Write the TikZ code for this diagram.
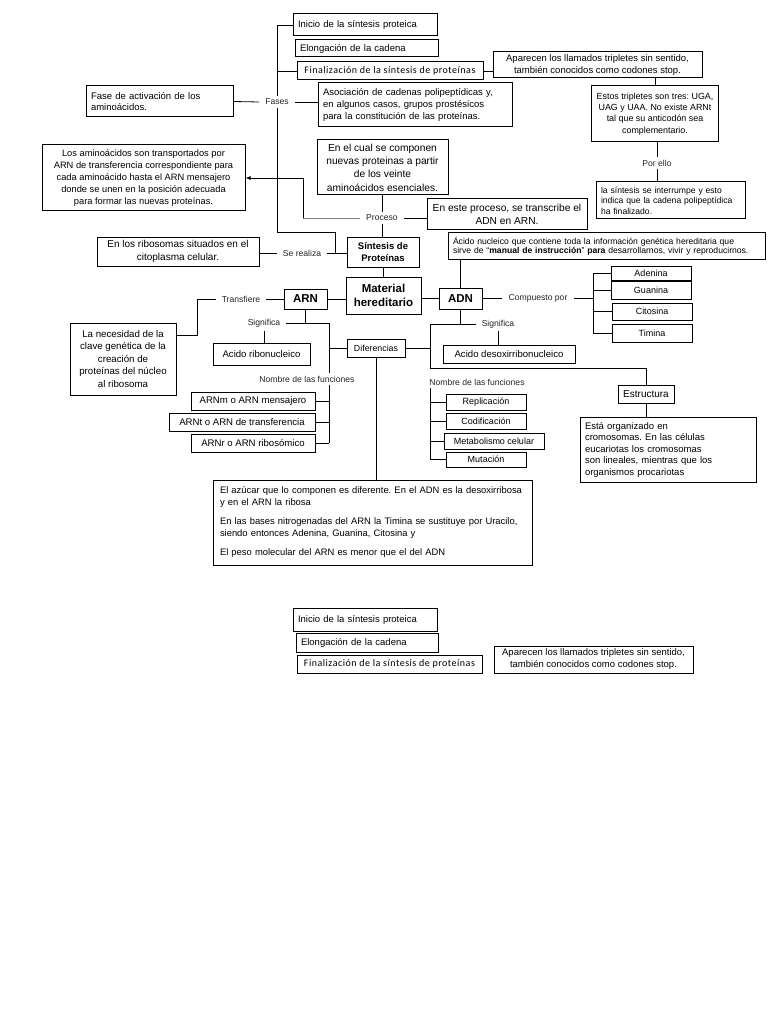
\documentclass[tikz,border=0pt]{standalone}
\usepackage{fontspec}
\setmainfont{Liberation Sans}
\newfontfamily\calfont{Carlito}[LetterSpace=5]
\usetikzlibrary{arrows.meta}
\newcommand{\fsz}[2]{\fontsize{#1}{#2}\selectfont}

\begin{document}
\frenchspacing
\begin{tikzpicture}[x=1pt,y=1pt,yscale=-1,xscale=1,
    box/.style={draw, line width=1pt, inner xsep=5pt, inner ysep=1pt, align=center, font=\fsz{9.5}{11.5}},
    lbl/.style={inner xsep=6pt, inner ysep=3pt, font=\fsz{8.6}{10}, text=black!85},
    conn/.style={line width=0.8pt}]
        \path[use as bounding box, fill=white] (0,0) rectangle (768,1024);

        % fases
        \node[box, text width=134pt, minimum height=22pt, align=left] (inicio) at (365,25) {Inicio de la síntesis proteica};
        \node[box, text width=133pt, minimum height=17pt, align=left] (elong) at (366.5,48.5) {Elongación de la cadena};
        \node[box, minimum width=186pt, minimum height=18pt, font=\calfont\fsz{10}{11}] (final) at (390,71) {Finalización de la síntesis de proteínas};
        \node[box, minimum width=209pt, minimum height=26pt, font=\fsz{9.5}{12}] (aparecen) at (597.5,65) {Aparecen los llamados tripletes sin sentido,\\ también conocidos como codones stop.};
        \node[box, minimum width=126pt, minimum height=56pt, font=\fsz{8.9}{11.4}] (estos) at (655,114) {Estos tripletes son tres: UGA,\\ UAG y UAA. No existe ARNt\\ tal que su anticodón sea\\ complementario.};
        \node[lbl] (porello) at (657,163) {Por ello};
        \node[box, text width=139pt, minimum height=37pt, align=left, font=\fsz{8.6}{10.5}] (sintint) at (670.5,200.5) {la síntesis se interrumpe y esto\\ indica que la cadena polipeptídica\\ ha finalizado.};
        \node[box, text width=184pt, minimum height=44pt, align=left, font=\fsz{9.5}{11.7}] (asoc) at (415,105) {Asociación de cadenas polipeptídicas y,\\ en algunos casos, grupos prostésicos\\ para la constitución de las proteínas.};
        \node[lbl] (fases) at (277,102) {Fases};
        \node[box, text width=137pt, minimum height=31pt, align=left] (faseact) at (159.5,101.5) {Fase de activación de los\\ aminoácidos.};

        % proceso
        \node[box, minimum width=203pt, minimum height=66pt, font=\fsz{9.3}{12}] (aminos) at (143.5,178) {Los aminoácidos son transportados por\\ ARN de transferencia correspondiente para\\ cada aminoácido hasta el ARN mensajero\\ donde se unen en la posición adecuada\\ para formar las nuevas proteínas.};
        \node[box, minimum width=131pt, minimum height=55pt, font=\fsz{10.2}{13.3}] (encual) at (382.5,167.5) {En el cual se componen\\ nuevas proteinas a partir\\ de los veinte\\ aminoácidos esenciales.};
        \node[lbl] (proceso) at (382,218) {Proceso};
        \node[box, minimum width=160pt, minimum height=31pt, font=\fsz{10.2}{12.5}] (eneste) at (507,214.5) {En este proceso, se transcribe el\\ ADN en ARN.};
        \node[box, minimum width=162pt, minimum height=29pt, font=\fsz{10}{12.5}] (ribos) at (178,251.5) {En los ribosomas situados en el\\ citoplasma celular.};
        \node[lbl] (serealiza) at (302,253) {Se realiza};
        \node[box, minimum width=72pt, minimum height=30pt, font=\bfseries\fsz{9.5}{12}] (sintesis) at (383,252) {Síntesis de\\ Proteínas};
        \node[box, text width=307pt, minimum height=26pt, align=left, font=\fsz{8.6}{9.6}] (acidonuc) at (606.5,246) {Ácido nucleico que contiene toda la información genética hereditaria que\\ sirve de ``\textbf{manual de instrucción}'' \textbf{para} desarrollarnos, vivir y reproducirnos.};

        % material hereditario
        \node[box, minimum width=75pt, minimum height=37pt, font=\bfseries\fsz{11.5}{13.5}] (material) at (383.5,295.5) {Material\\ hereditario};
        \node[box, minimum width=43pt, minimum height=20pt, font=\bfseries\fsz{11.5}{13}] (arn) at (305.5,299) {ARN};
        \node[box, minimum width=43pt, minimum height=21pt, font=\bfseries\fsz{11.5}{13}] (adn) at (460.5,298.5) {ADN};
        \node[lbl] (transfiere) at (241,299) {Transfiere};
        \node[lbl] (compuesto) at (538,298) {Compuesto por};
        \node[box, minimum width=80pt, minimum height=14pt, font=\fsz{9}{10}] (adenina) at (651,273) {Adenina};
        \node[box, minimum width=80pt, minimum height=18pt, font=\fsz{9}{10}] (guanina) at (651,290) {Guanina};
        \node[box, minimum width=80pt, minimum height=17pt, font=\fsz{9}{10}] (citosina) at (652,311.5) {Citosina};
        \node[box, minimum width=80pt, minimum height=18pt, font=\fsz{9}{10}] (timina) at (652,333) {Timina};
        \node[box, minimum width=106pt, minimum height=72pt, font=\fsz{9.7}{12.5}] (necesidad) at (123,359) {La necesidad de la\\ clave genética de la\\ creación de\\ proteínas del núcleo\\ al ribosoma};
        \node[lbl] (significa1) at (264,323.5) {Significa};
        \node[lbl] (significa2) at (498,324) {Significa};
        \node[box, minimum width=97pt, minimum height=22pt, font=\fsz{9.6}{11}] (acidorib) at (261.5,354) {Acido ribonucleico};
        \node[box, minimum width=132pt, minimum height=18pt, font=\fsz{9.6}{11}] (acidodes) at (509,354) {Acido desoxirribonucleico};
        \node[box, minimum width=58pt, minimum height=18pt, font=\fsz{8.8}{10}] (diferencias) at (376,348) {Diferencias};
        \node[lbl] (nombre1) at (307,379) {Nombre de las funciones};
        \node[lbl] (nombre2) at (477,382) {Nombre de las funciones};

        % funciones
        \node[box, minimum width=124pt, minimum height=18pt, font=\fsz{9.6}{11}] (arnm) at (253,401) {ARNm o ARN mensajero};
        \node[box, minimum width=146pt, minimum height=18pt, font=\fsz{9.6}{11}] (arnt) at (242,422) {ARNt o ARN de transferencia};
        \node[box, minimum width=124pt, minimum height=18pt, font=\fsz{9.6}{11}] (arnr) at (253,443) {ARNr o ARN ribosómico};
        \node[box, minimum width=80pt, minimum height=16pt, font=\fsz{9}{10}] (replic) at (486,402) {Replicación};
        \node[box, minimum width=80pt, minimum height=16pt, font=\fsz{9}{10}] (codif) at (486,421) {Codificación};
        \node[box, minimum width=100pt, minimum height=16pt, font=\fsz{9}{10}] (metab) at (494,441) {Metabolismo celular};
        \node[box, minimum width=80pt, minimum height=15pt, font=\fsz{9}{10}] (mutac) at (486,459.5) {Mutación};
        \node[box, minimum width=56pt, minimum height=18pt, font=\fsz{10}{11}] (estructura) at (646,394) {Estructura};
        \node[box, text width=166pt, minimum height=65pt, align=left, font=\fsz{9.5}{11.5}] (estaorg) at (668,449.5) {Está organizado en\\ cromosomas. En las células\\ eucariotas los cromosomas\\ son lineales, mientras que los\\ organismos procariotas};
        \node[box, text width=305pt, minimum height=85pt, inner xsep=7pt, align=left, font=\fsz{9.4}{11.5}] (diftext) at (372.5,522.5) {El azúcar que lo componen es diferente. En el ADN es la desoxirribosa\\ y en el ARN la ribosa\\[8pt] En las bases nitrogenadas del ARN la Timina se sustituye por Uracilo,\\ siendo entonces Adenina, Guanina, Citosina y\\[8pt] El peso molecular del ARN es menor que el del ADN};

        % copia suelta abajo
        \node[box, text width=134pt, minimum height=23pt, align=left] (inicio2) at (365,619.5) {Inicio de la síntesis proteica};
        \node[box, text width=132pt, minimum height=19pt, align=left] (elong2) at (367,642.5) {Elongación de la cadena};
        \node[box, minimum width=185pt, minimum height=18pt, font=\calfont\fsz{10}{11}] (final2) at (389.5,664) {Finalización de la síntesis de proteínas};
        \node[box, minimum width=199pt, minimum height=27pt, font=\fsz{9.5}{12}] (aparecen2) at (593.5,659.5) {Aparecen los llamados tripletes sin sentido,\\ también conocidos como codones stop.};

        \coordinate (ftop) at (277,25);
        \coordinate (fbot) at (277,232);
        \coordinate (fjoin) at (335,253);
        \coordinate (pbend) at (303,218);
        \coordinate (tbend) at (197,335);
        \coordinate (sj) at (329,323.5);
        \coordinate (dj) at (430,324);
        \coordinate (ej) at (430,368);
        \coordinate (cv) at (593,298);

        % lineas
        \draw[conn] (ftop) -- (fases.north);
        \draw[conn] (ftop) -- (inicio.west |- ftop);
        \draw[conn] (fases.north |- final) -- (final.west);
        \draw[conn] (fases.south) -- (fbot) -| (fjoin);
        \draw[conn] (faseact.east) -- (fases.west);
        \draw[conn] (fases.east) -- (asoc.west |- fases.east);
        \draw[conn] (final.east) -- (aparecen.west |- final.east);
        \draw[conn] (estos.north) -- (estos.north |- aparecen.south);
        \draw[conn] (porello.north) -- (porello.north |- estos.south);
        \draw[conn] (porello.south) -- (porello.south |- sintint.north);

        \draw[conn] (encual.south) -- (encual.south |- proceso.north);
        \draw[conn] (proceso.south) -- (proceso.south |- sintesis.north);
        \draw[conn] (proceso.east) -- (eneste.west |- proceso.east);
        \draw[conn, gray] (proceso.west) -- (pbend);
        \draw[conn, -{Latex[length=5pt,width=4pt]}] (pbend) |- (aminos.east);
        \draw[conn] (ribos.east |- serealiza.west) -- (serealiza.west);
        \draw[conn] (serealiza.east) -- (sintesis.west |- serealiza.east);
        \draw[conn] (sintesis.south) -- (sintesis.south |- material.north);
        \draw[conn] (adn.north) -- (adn.north |- acidonuc.south);

        \draw[conn] (arn.east) -- (material.west |- arn.east);
        \draw[conn] (material.east |- adn.west) -- (adn.west);
        \draw[conn] (transfiere.east) -- (arn.west);
        \draw[conn] (transfiere.west) -| (tbend) -- (necesidad.east |- tbend);
        \draw[conn] (adn.east) -- (adn.east -| compuesto.west);
        \draw[conn] (compuesto.east) -- (cv);
        \draw[conn] (cv |- adenina) -- (cv |- timina);
        \draw[conn] (cv |- adenina) -- (adenina.west);
        \draw[conn] (cv |- guanina) -- (guanina.west);
        \draw[conn] (cv |- citosina) -- (citosina.west);
        \draw[conn] (cv |- timina) -- (timina.west);

        \draw[conn] (arn.south) -- (arn.south |- sj);
        \draw[conn] (significa1.east) -- (sj) -- (sj |- nombre1.north);
        \draw[conn] (significa1.south) -- (significa1.south |- acidorib.north);
        \draw[conn] (diferencias.west) -- (sj |- diferencias.west);
        \draw[conn] (diferencias.east) -- (dj |- diferencias.east);
        \draw[conn] (diferencias.south) -- (diferencias.south |- diftext.north);
        \draw[conn] (sj |- nombre1.south) -- (sj |- arnr);
        \draw[conn] (arnm.east) -- (sj |- arnm);
        \draw[conn] (arnt.east) -- (sj |- arnt);
        \draw[conn] (arnr.east) -- (sj |- arnr);

        \draw[conn] (adn.south) -- (adn.south |- dj);
        \draw[conn] (significa2.west) -- (dj) -- (ej) -| (estructura.north);
        \draw[conn] (significa2.south) -- (significa2.south |- acidodes.north);
        \draw[conn] (dj |- nombre2.south) -- (dj |- mutac);
        \draw[conn] (dj |- replic) -- (replic.west);
        \draw[conn] (dj |- codif) -- (codif.west);
        \draw[conn] (dj |- metab) -- (metab.west);
        \draw[conn] (dj |- mutac) -- (mutac.west);
        \draw[conn] (estructura.south) -- (estructura.south |- estaorg.north);
    \end{tikzpicture}
\end{document}
